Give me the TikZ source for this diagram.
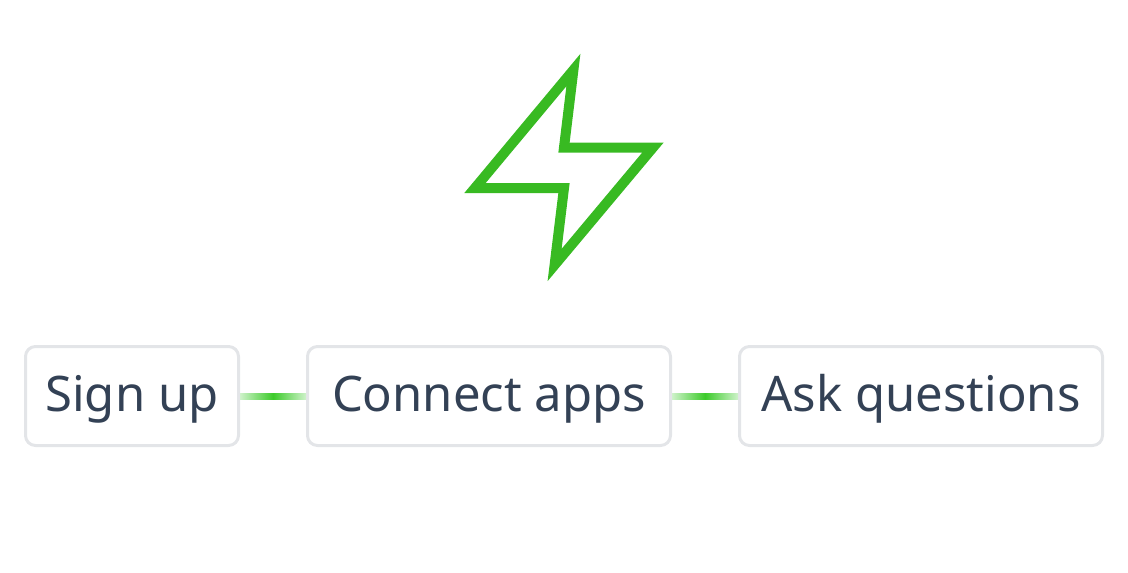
\documentclass[tikz,border=0pt]{standalone}
\usepackage{fontspec}
\setmainfont{Noto Sans}
\usepackage{xcolor}
\usetikzlibrary{positioning}
\definecolor{boltgreen}{HTML}{38BA22}
\definecolor{linkgreen}{HTML}{3CCB2A}
\definecolor{boxline}{HTML}{E3E5E8}
\definecolor{boxtext}{HTML}{334155}
\tikzset{
 stepbox/.style={draw=boxline,line width=3pt,rounded corners=10pt,minimum height=99pt,
  inner sep=0pt,text=boxtext,text height=36pt,text depth=6pt,font=\fontsize{49}{56}\selectfont},
 linkbar/.style={left color=linkgreen!25,right color=linkgreen!25,middle color=linkgreen}
}
\begin{document}
\begin{tikzpicture}[x=1pt,y=-1pt,node distance=66pt]
 \useasboundingbox (0,0) rectangle (1128,573);

 \draw[boltgreen,line width=10pt,miter limit=10]
  (573.4,70) -- (564,147.5) -- (653,147.5) -- (554.6,265) -- (564,188) -- (475,188) -- cycle;

 \node[stepbox,minimum width=213pt,anchor=west] (signup) at (24,396) {Sign up};
 \node[stepbox,minimum width=363pt,right=of signup] (connect) {Connect apps};
 \node[stepbox,minimum width=363pt,right=of connect] (ask) {Ask questions};

 \path[linkbar] ([yshift=3pt]signup.east) rectangle ([yshift=-3pt]connect.west);
 \path[linkbar] ([yshift=3pt]connect.east) rectangle ([yshift=-3pt]ask.west);
\end{tikzpicture}
\end{document}
